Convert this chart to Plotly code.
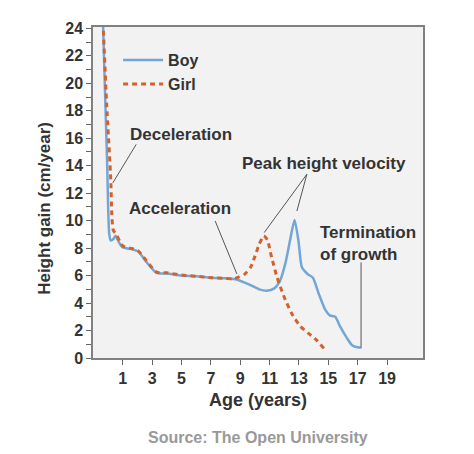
import plotly.graph_objects as go

# ages (years) and height gain (cm/year)
boy_age = [-0.35, -0.2, -0.05, 0.0, 0.08, 0.18, 0.35, 0.5, 0.75, 1.0, 1.5, 2.05, 2.6, 3.3, 4.0,
           5.0, 6.0, 7.0, 8.0, 8.8, 9.7, 10.3, 10.8, 11.3, 11.7, 12.1, 12.4, 12.7, 12.97, 13.2,
           13.6, 13.95, 14.34, 14.8, 15.1, 15.47, 15.8, 16.27, 16.6, 16.9, 17.2]
boy_gain = [24.5, 19.0, 13.5, 11.0, 9.0, 8.55, 8.65, 8.9, 8.4, 8.05, 7.95, 7.75, 7.0, 6.2, 6.15,
            6.0, 5.95, 5.85, 5.8, 5.7, 5.3, 5.0, 4.9, 5.05, 5.6, 7.0, 8.6, 10.05, 8.5, 6.6,
            6.1, 5.85, 4.7, 3.5, 3.1, 3.0, 2.3, 1.45, 0.95, 0.8, 0.75]

girl_age = [-0.35, -0.1, 0.18, 0.25, 0.35, 0.55, 0.8, 1.0, 1.5, 2.05, 2.6, 3.3, 4.0, 5.0, 6.0,
            7.0, 8.0, 8.5, 8.9, 9.3, 9.7, 10.0, 10.3, 10.6, 10.85, 11.1, 11.5, 11.95, 12.5,
            13.1, 13.65, 14.2, 14.7]
girl_gain = [24.5, 18.5, 13.0, 10.5, 9.3, 9.0, 8.5, 8.15, 8.0, 7.8, 7.1, 6.25, 6.2, 6.05, 5.95,
             5.85, 5.8, 5.75, 5.9, 6.1, 6.6, 7.4, 8.3, 8.9, 8.6, 7.5, 5.9, 4.55, 3.25,
             2.3, 1.8, 1.3, 0.7]

x_ticks = [1, 3, 5, 7, 9, 11, 13, 15, 17, 19]
y_ticks = [0, 2, 4, 6, 8, 10, 12, 14, 16, 18, 20, 22, 24]

FONT = "Liberation Sans, Arial, sans-serif"
TXT = "#333333"

fig = go.Figure()
fig.add_trace(go.Scatter(x=boy_age, y=boy_gain, name="Boy", mode="lines",
                         line=dict(color="#72a6d8", width=2.5, shape="spline", smoothing=0.6)))
fig.add_trace(go.Scatter(x=girl_age, y=girl_gain, name="Girl", mode="lines",
                         line=dict(color="#d2622b", width=3, dash="5px,4px",
                                   shape="spline", smoothing=0.6)))

# pointer lines for the labels
pointers = [
    (1.91, 15.55, 0.32, 12.75),
    (7.29, 9.98, 8.77, 6.12),
    (13.54, 13.38, 10.63, 9.13),
    (13.54, 13.38, 12.86, 10.7),
    (17.23, 6.96, 17.23, 0.7),
]
for x0, y0, x1, y1 in pointers:
    fig.add_shape(type="line", x0=x0, y0=y0, x1=x1, y1=y1,
                  line=dict(color="#555555", width=1))

labels = [
    ("Deceleration", 4.98, 16.27, "center"),
    ("Acceleration", 4.9, 10.92, "center"),
    ("Peak height velocity", 14.72, 14.17, "center"),
    ("Termination<br>of growth", 14.31, 8.32, "left"),
]
for text, x, y, anchor in labels:
    fig.add_annotation(x=x, y=y, text=text, showarrow=False, xanchor=anchor, align="left",
                       font=dict(family=FONT, size=17, color=TXT, weight="bold"))

# axis titles and source, placed in paper coords
fig.add_annotation(x=-0.1456, y=0.4535, xref="paper", yref="paper", text="Height gain (cm/year)",
                   showarrow=False, textangle=-90, xanchor="center", yanchor="middle",
                   font=dict(family=FONT, size=17, color=TXT, weight="bold"))
fig.add_annotation(x=0.5, y=-0.126, xref="paper", yref="paper", text="Age (years)",
                   showarrow=False, xanchor="center", yanchor="middle",
                   font=dict(family=FONT, size=18, color=TXT, weight="bold"))
fig.add_annotation(x=0.5, y=-0.24, xref="paper", yref="paper", text="Source: The Open University",
                   showarrow=False, xanchor="center", yanchor="middle",
                   font=dict(family=FONT, size=16, color="#999999", weight="bold"))

fig.update_layout(
    width=466, height=446,
    margin=dict(l=85, r=51.3, t=17, b=96),
    paper_bgcolor="white", plot_bgcolor="#f2f2f2",
    font=dict(family=FONT, size=16, color=TXT, weight="bold"),
    legend=dict(x=0.076, y=0.951, bgcolor="rgba(0,0,0,0)",
                font=dict(size=16, weight="bold"), itemwidth=40),
    xaxis=dict(range=[-1.03, 21.45], tickvals=x_ticks, ticks="outside", ticklen=5,
               tickcolor="#666", showgrid=False, zeroline=False, showline=True,
               linecolor="#808080", linewidth=1.5, mirror=True),
    yaxis=dict(range=[0, 24.1], tickvals=y_ticks, ticks="outside", ticklen=5,
               tickcolor="#666", showgrid=False, zeroline=False, showline=True,
               linecolor="#808080", linewidth=1.5, mirror=True,
               minor=dict(dtick=1, ticks="outside", ticklen=5, tickcolor="#666")),
)

fig.write_html("out.html")
